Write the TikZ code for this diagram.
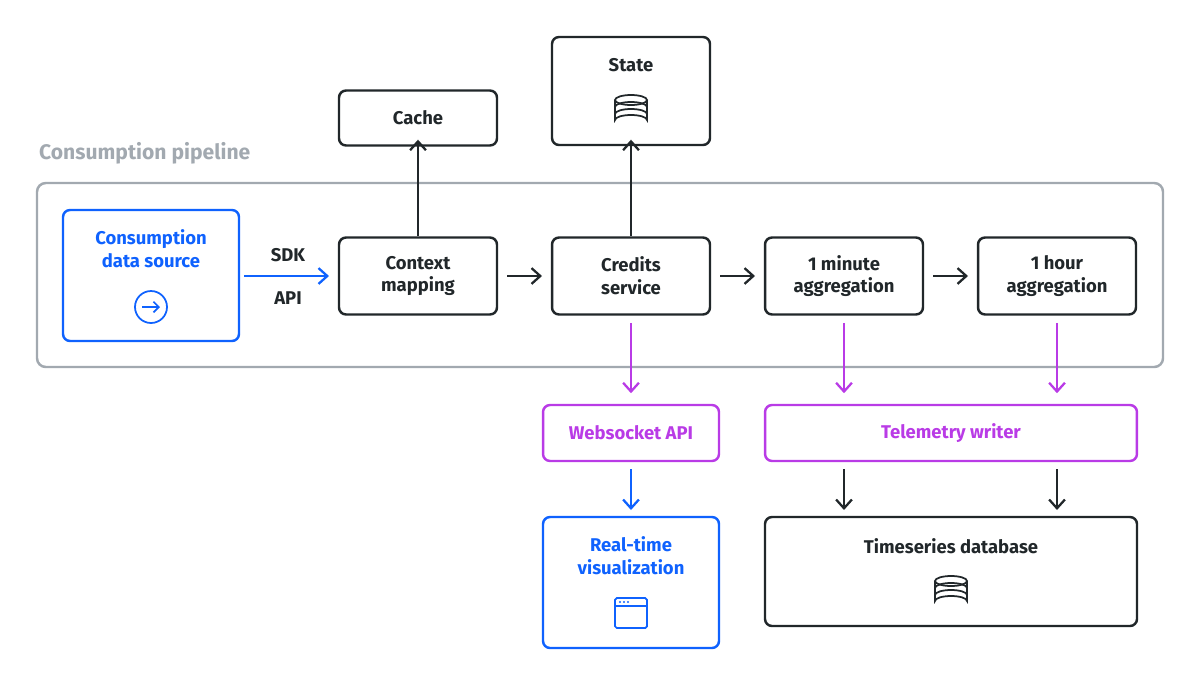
\documentclass[tikz,border=0pt]{standalone}
\usepackage{fontspec}
\setmainfont{Fira Sans}
\usetikzlibrary{arrows.meta}
\definecolor{ink}{HTML}{21272A}
\definecolor{ibmblue}{HTML}{0F62FE}
\definecolor{violet}{HTML}{B93BE6}
\definecolor{pipegray}{HTML}{A2A9B0}
\tikzset{
  box/.style={draw=ink, line width=1.4pt, rounded corners=4pt, align=center,
    font=\fontsize{10.5}{13}\selectfont\bfseries, text=ink, inner sep=0pt},
  vbox/.style={box, draw=violet, text=violet},
  label/.style={font=\fontsize{10.5}{13}\selectfont\bfseries, align=center},
  flow/.style={-{Straight Barb[length=5pt,width=9pt]}, line width=1.3pt, draw=ink},
  icon/.style={line width=1pt}
}
\begin{document}
\begin{tikzpicture}[x=0.02cm,y=-0.02cm]
  \useasboundingbox (0,0) rectangle (1200,684);
  % pipeline frame
  \draw[pipegray, line width=1.4pt, rounded corners=5pt] (37,183) rectangle (1163,367);
  \node[anchor=west, text=pipegray, font=\fontsize{12}{14}\selectfont\bfseries] (pipe) at (33,153) {Consumption pipeline};
  % boxes
  \draw[ibmblue, line width=1.4pt, rounded corners=4pt] (63,210) rectangle (239,341);
  \node[label, text=ibmblue] (src) at (151,249) {Consumption\\data source};
  \node[box, minimum width=3.16cm, minimum height=1.54cm] (ctx) at (418,276) {Context\\mapping};
  \node[box, minimum width=3.16cm, minimum height=1.54cm] (cred) at (631,276) {Credits\\service};
  \node[box, minimum width=3.16cm, minimum height=1.54cm] (min) at (844,276) {1 minute\\aggregation};
  \node[box, minimum width=3.16cm, minimum height=1.54cm] (hour) at (1057,276) {1 hour\\aggregation};
  \node[box, minimum width=3.16cm, minimum height=1.1cm] (cache) at (418,118) {Cache};
  \draw[ink, line width=1.4pt, rounded corners=4pt] (552,37) rectangle (710,145);
  \node[label, text=ink] (state) at (631,65) {State};
  \node[vbox, minimum width=3.52cm, minimum height=1.12cm] (ws) at (631,433) {Websocket API};
  \node[vbox, minimum width=7.44cm, minimum height=1.12cm] (tel) at (951,433) {Telemetry writer};
  \draw[ibmblue, line width=1.4pt, rounded corners=4pt] (543,517) rectangle (719,648);
  \node[label, text=ibmblue] (viz) at (631,556) {Real-time\\visualization};
  \draw[ink, line width=1.4pt, rounded corners=4pt] (765,517) rectangle (1137,626);
  \node[label, text=ink] (tsdb) at (951,546) {Timeseries database};
  % icons
  \draw[ibmblue, icon] (151,307) circle (16);
  \draw[ibmblue, icon, -{Straight Barb[length=3pt,width=6pt]}] (142,307) -- (160,307);
  \foreach \cx/\cy in {631/110, 951/591} {
    \draw[ink, icon] (\cx-16,\cy-10) -- (\cx-16,\cy+10) arc[start angle=180,end angle=360,x radius=16,y radius=5] -- (\cx+16,\cy-10);
    \draw[ink, icon] (\cx,\cy-10) ellipse[x radius=16,y radius=5];
    \draw[ink, icon] (\cx-16,\cy-3) arc[start angle=180,end angle=360,x radius=16,y radius=5];
    \draw[ink, icon] (\cx-16,\cy+4) arc[start angle=180,end angle=360,x radius=16,y radius=5];
  }
  \draw[ibmblue, icon, rounded corners=1pt] (615,598) rectangle (647,628);
  \draw[ibmblue, icon] (615,606) -- (647,606);
  \foreach \dx in {620,624,628} \fill[ibmblue] (\dx,602) circle (1.2);
  % connectors
  \coordinate (srcout) at (244,276);
  \draw[flow, draw=ibmblue] (srcout) -- ([xshift=-5pt]ctx.west);
  \node[label, text=ink] (sdk) at (288,255) {SDK};
  \node[label, text=ink] (api) at (288,298) {API};
  \draw[flow] ([xshift=5pt]ctx.east) -- ([xshift=-5pt]cred.west);
  \draw[flow] ([xshift=5pt]cred.east) -- ([xshift=-5pt]min.west);
  \draw[flow] ([xshift=5pt]min.east) -- ([xshift=-5pt]hour.west);
  \draw[flow] (ctx.north) -- ([yshift=4pt]cache.south);
  \draw[flow] (cred.north) -- ([yshift=4pt]cred.north |- cache.south);
  \draw[flow, draw=violet] ([yshift=-4pt]cred.south) -- ([yshift=6pt]ws.north);
  \draw[flow, draw=violet] ([yshift=-4pt]min.south) -- ([yshift=6pt]min.south |- tel.north);
  \draw[flow, draw=violet] ([yshift=-4pt]hour.south) -- ([yshift=6pt]hour.south |- tel.north);
  \draw[flow, draw=ibmblue] ([yshift=-4pt]ws.south) -- (631,510);
  \draw[flow] ([yshift=-4pt]min.south |- tel.south) -- (844,510);
  \draw[flow] ([yshift=-4pt]hour.south |- tel.south) -- (1057,510);
\end{tikzpicture}
\end{document}
